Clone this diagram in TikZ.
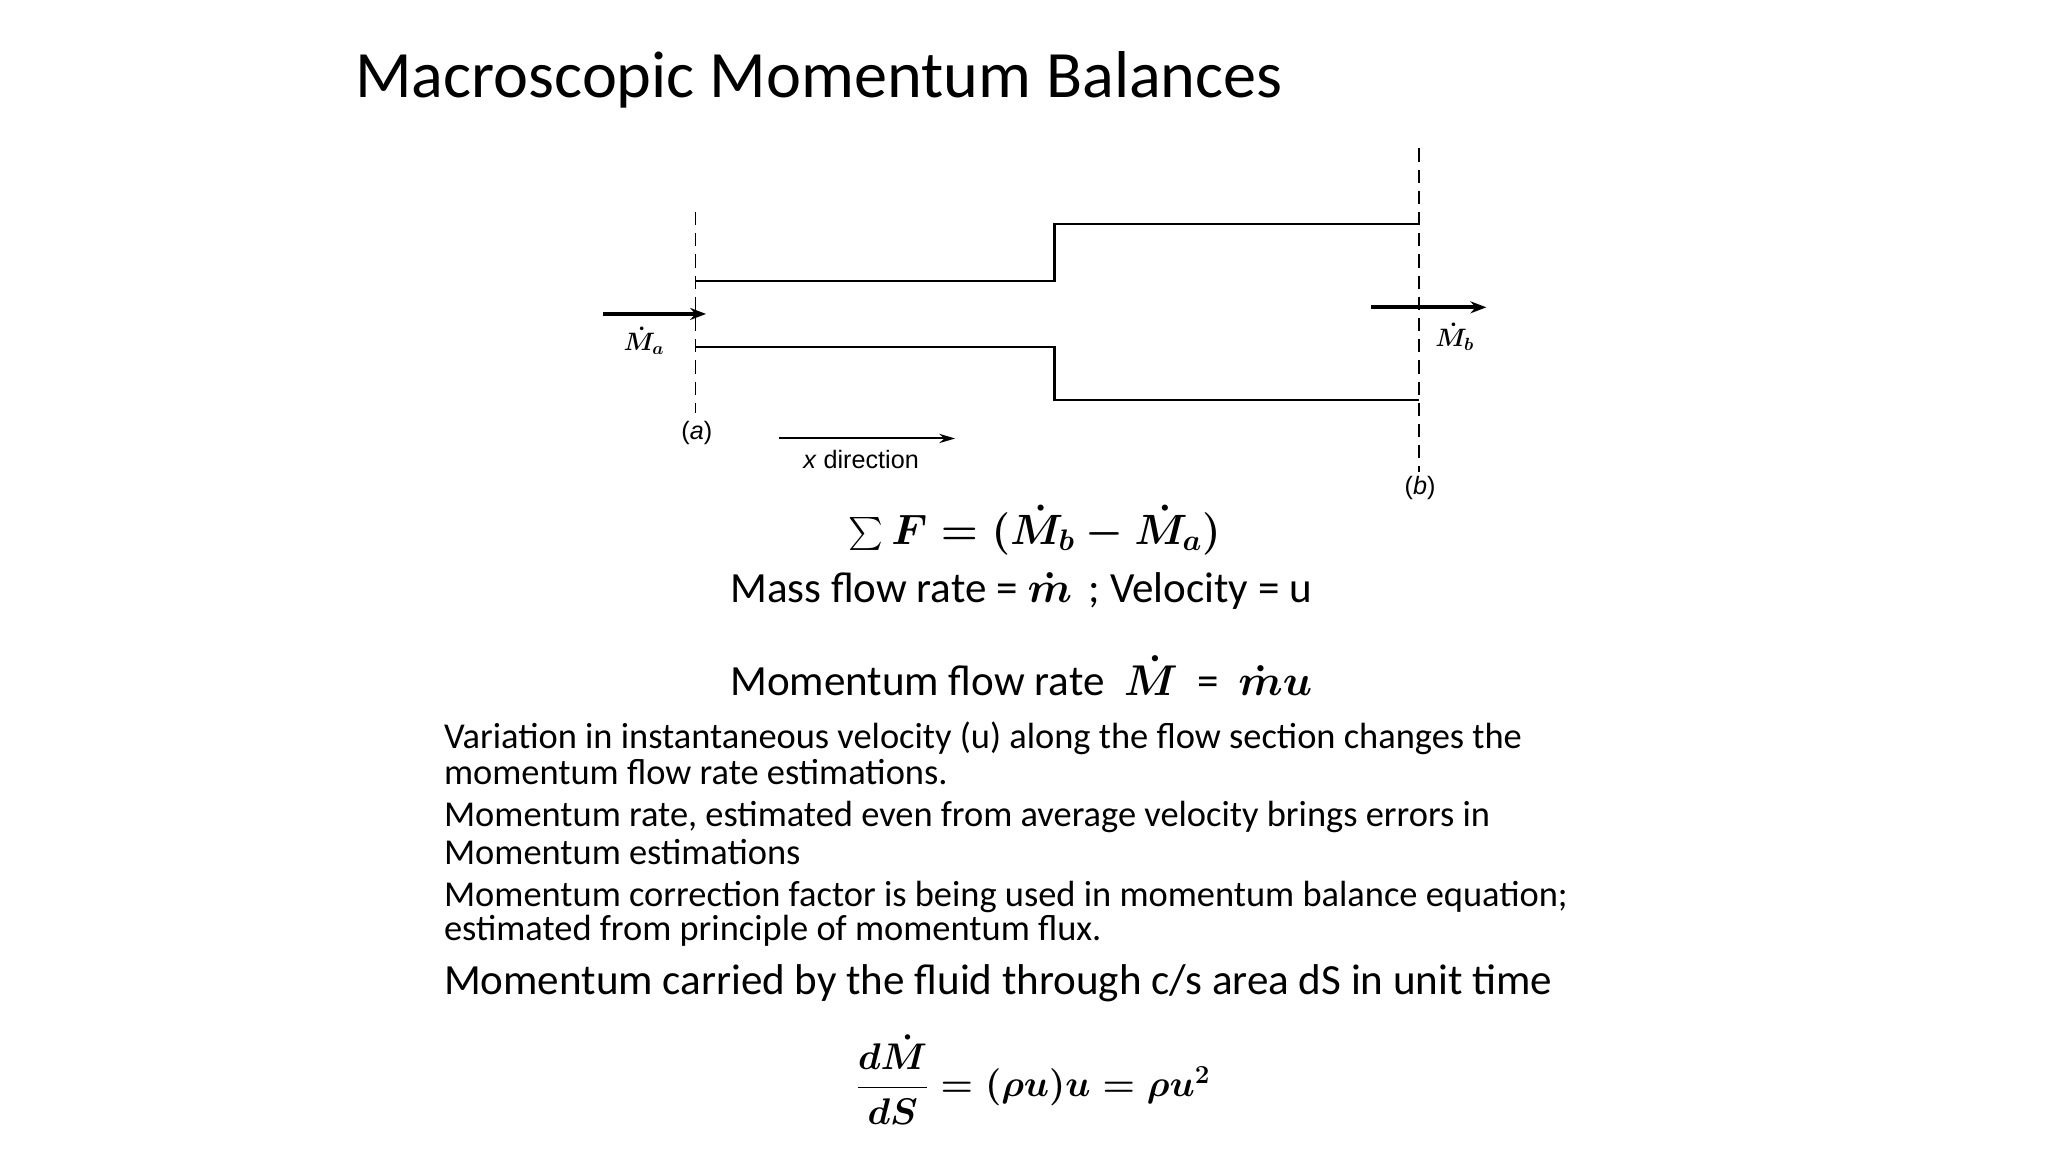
\RequirePackage{fix-cm}
\documentclass[tikz,border=0pt]{standalone}
\usepackage{amsmath}
\usepackage{fontspec}
\setmainfont{Carlito}
\newfontfamily\hv{Liberation Sans}
\usetikzlibrary{arrows.meta}
\begin{document}
\begin{tikzpicture}[x=1pt,y=-1pt,
  pipe/.style={line width=1.6pt},
  cut/.style={line width=1.2pt,dash pattern=on 10pt off 6pt},
  flow/.style={line width=3pt,-{Stealth[length=12pt,width=9pt]}},
  body/.style={anchor=west,inner sep=0pt,font=\fontsize{27.5}{30}\selectfont},
  big/.style={anchor=west,inner sep=0pt,font=\fontsize{32.5}{36}\selectfont},
  lab/.style={inner sep=0pt,font=\hv\fontsize{19}{22}\selectfont}]
\useasboundingbox[fill=white] (0,0) rectangle (1546,870);
\node[anchor=west,inner sep=0pt,font=\fontsize{50}{56}\selectfont] (title) at (268,60) {Macroscopic Momentum Balances};
% control surfaces
\coordinate (a1) at (525,160); \coordinate (a2) at (525,312);
\coordinate (b1) at (1071,112); \coordinate (b2) at (1071,356);
\draw[cut] (a1) -- (a2);
\draw[cut] (b1) -- (b2);
% pipe
\coordinate (u1) at (525,212); \coordinate (u2) at (796,212); \coordinate (u3) at (796,169); \coordinate (u4) at (1071,169);
\coordinate (l1) at (525,262); \coordinate (l2) at (796,262); \coordinate (l3) at (796,302); \coordinate (l4) at (1071,302);
\draw[pipe] (u1) -- (u2) -- (u3) -- (u4);
\draw[pipe] (l1) -- (l2) -- (l3) -- (l4);
% flows
\coordinate (ma0) at (455,237); \coordinate (ma1) at (533,237);
\coordinate (mb0) at (1035,232); \coordinate (mb1) at (1122,232);
\draw[flow] (ma0) -- (ma1);
\draw[flow] (mb0) -- (mb1);
\node[lab] (Ma) at (486,257) {$\boldsymbol{\dot M_a}$};
\node[lab] (Mb) at (1098,254) {$\boldsymbol{\dot M_b}$};
\node[lab] (la) at (526,327) {(\textit{a})};
\node[lab] (lb) at (1072,368) {(\textit{b})};
\coordinate (x0) at (588,331); \coordinate (x1) at (721,331);
\draw[line width=1.5pt,-{Stealth[length=12pt,width=7pt]}] (x0) -- (x1);
\node[lab] (xd) at (650,347) {\textit{x} direction};
% equations
\node[inner sep=0pt,font=\fontsize{32}{38}\selectfont] (e1) at (781,400) {$\boldsymbol{\sum F = (\dot M_b - \dot M_a)}$};
\node[big] (t1) at (551,446) {Mass flow rate = $\boldsymbol{\dot m}$\, ; Velocity = u};
\node[big] (t2) at (551,510) {Momentum flow rate\ \ $\boldsymbol{\dot M}$\ \ = \ $\boldsymbol{\dot m u}$};
\node[body] (p1) at (335,557) {Variation in instantaneous velocity (u) along the flow section changes the};
\node[body] (p2) at (335,583) {momentum flow rate estimations.};
\node[body] (p3) at (335,617) {Momentum rate, estimated even from average velocity brings errors in};
\node[body] (p4) at (335,643) {Momentum estimations};
\node[body] (p5) at (335,677) {Momentum correction factor is being used in momentum balance equation;};
\node[body] (p6) at (335,703) {estimated from principle of momentum flux.};
\node[big] (p7) at (335,742) {Momentum carried by the fluid through c/s area dS in unit time};
\node[inner sep=0pt,font=\fontsize{28}{34}\selectfont] (e2) at (780,815) {$\boldsymbol{\dfrac{d\dot M}{dS} = (\rho u)u = \rho u^2}$};
\end{tikzpicture}
\end{document}
